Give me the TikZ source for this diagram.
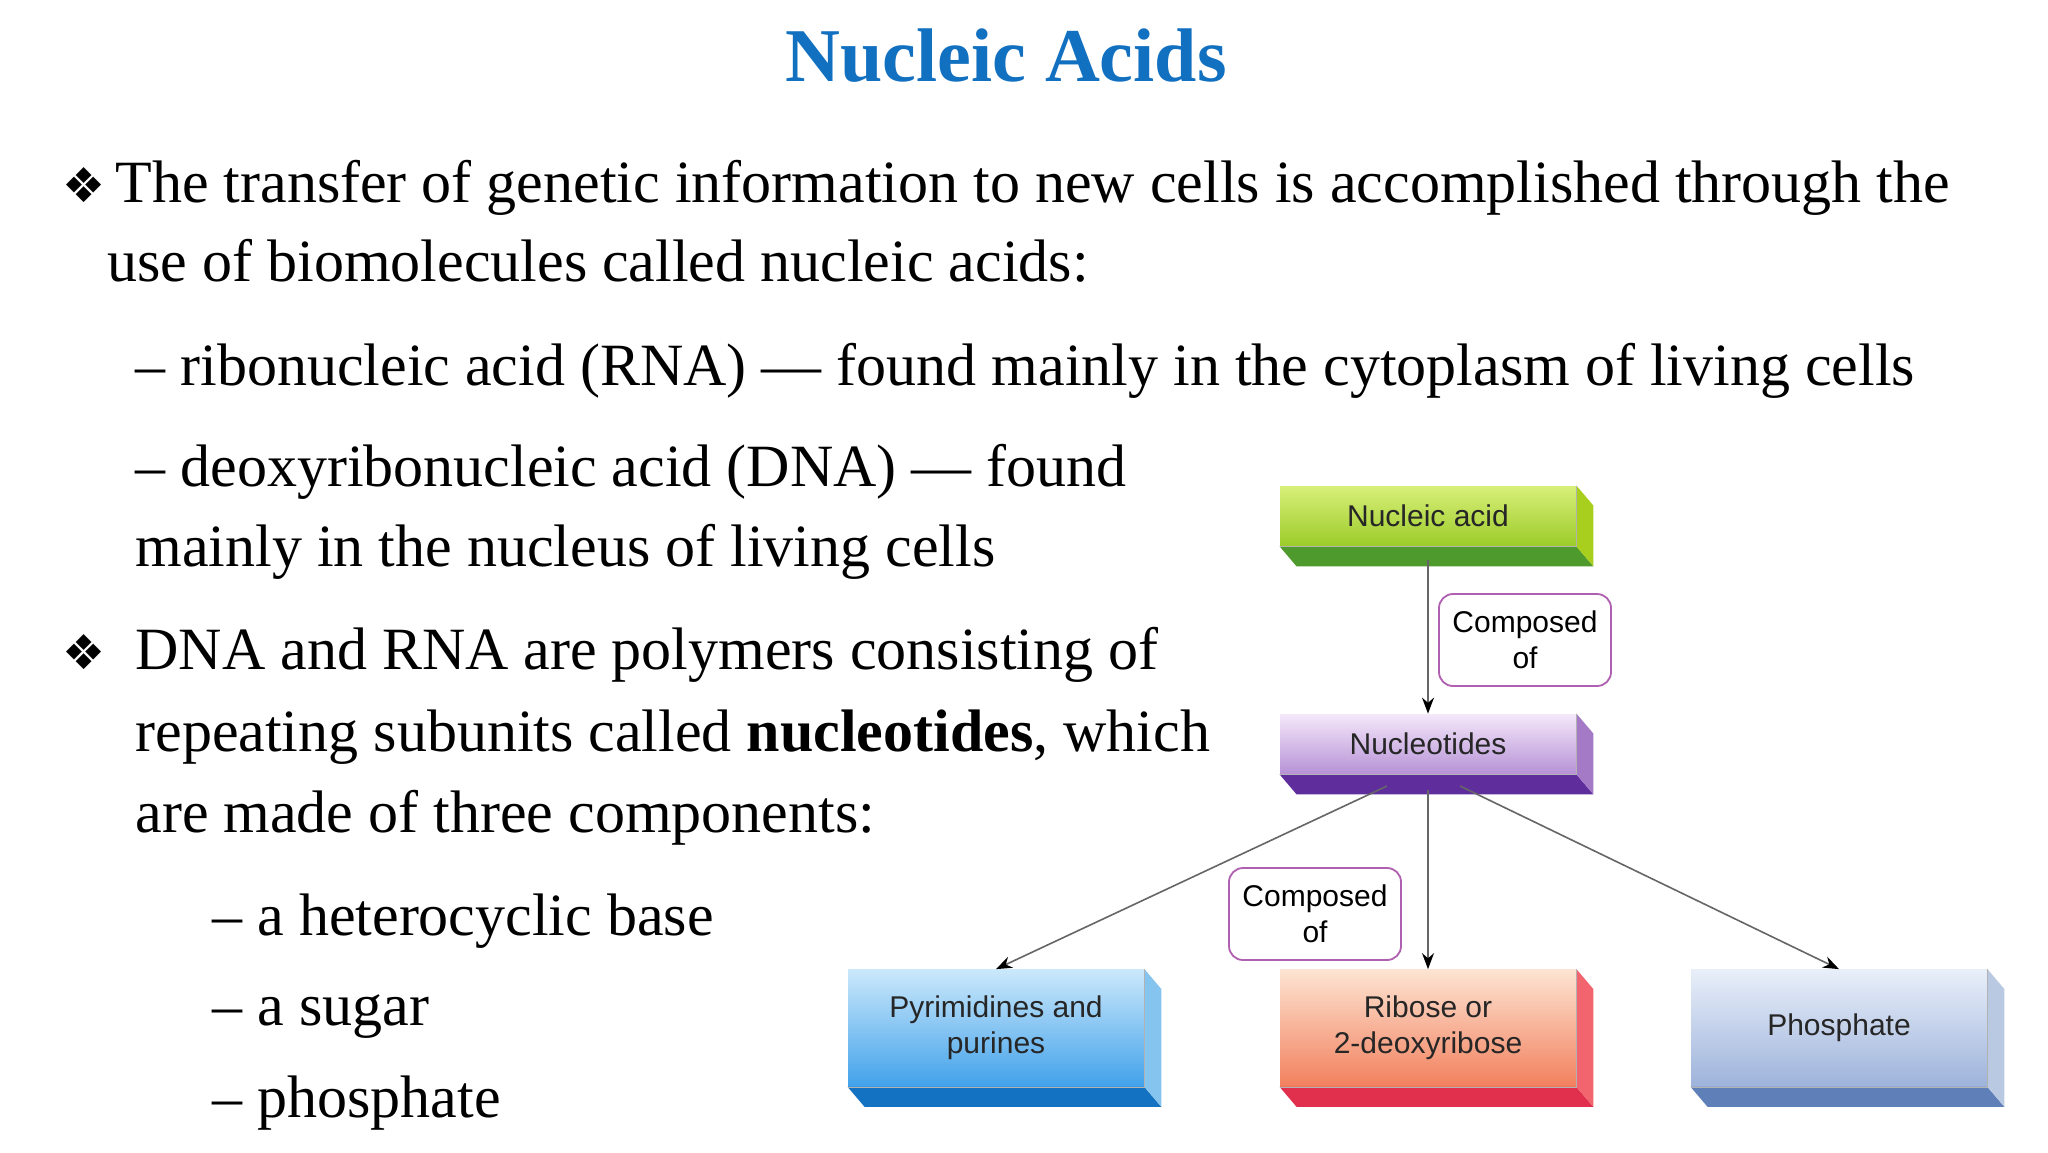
\documentclass[tikz,border=0pt]{standalone}
\usepackage{fontspec}
\setmainfont{Liberation Serif}
\newfontfamily\boxfont{Liberation Sans}
\newfontfamily\symfont{DejaVu Sans}
\usetikzlibrary{calc,arrows.meta}
\definecolor{titleblue}{HTML}{1270C0}
\definecolor{gA}{HTML}{D8EF78}\definecolor{gB}{HTML}{9CCB2A}\definecolor{gC}{HTML}{4E9A2C}\definecolor{gD}{HTML}{A9CF1E}
\definecolor{pA}{HTML}{F4E8FA}\definecolor{pB}{HTML}{B792D6}\definecolor{pC}{HTML}{5F2E9C}\definecolor{pD}{HTML}{A47AC6}
\definecolor{bA}{HTML}{CBE8FB}\definecolor{bB}{HTML}{42A2EA}\definecolor{bC}{HTML}{1472C2}\definecolor{bD}{HTML}{86C4F0}
\definecolor{rA}{HTML}{FDE4D2}\definecolor{rB}{HTML}{F2805E}\definecolor{rC}{HTML}{E0304E}\definecolor{rD}{HTML}{F2646E}
\definecolor{sA}{HTML}{E8EFF9}\definecolor{sB}{HTML}{9EB3DB}\definecolor{sC}{HTML}{5E7FB7}\definecolor{sD}{HTML}{B9C9E2}
\definecolor{lblc}{HTML}{B060B0}
\begin{document}
\begin{tikzpicture}[x=0.5pt,y=-0.5pt,
  body/.style={anchor=base west,inner sep=0pt,font=\fontsize{30}{33}\selectfont},
  slabbox/.style={minimum width=148pt,inner sep=0pt,font=\boxfont\fontsize{15}{18}\selectfont,align=center,text=black!85},
  lbl/.style={draw=lblc,line width=0.9pt,rounded corners=7pt,fill=white,minimum width=86pt,minimum height=46pt,inner sep=0pt,align=center,font=\boxfont\fontsize{15}{18}\selectfont},
  conn/.style={draw=black!60,line width=0.8pt,-{Stealth[length=8pt,width=6pt,black]}}]
\useasboundingbox (0,0) rectangle (2048,1152);
\fill[white] (0,0) rectangle (2048,1152);
\node[inner sep=0pt,anchor=base,text=titleblue,font=\bfseries\fontsize{38}{40}\selectfont] (title) at (1006,81) {Nucleic Acids};
\node[body] (d1) at (62,202) {\symfont\fontsize{24}{26}\selectfont ❖};
\node[body] (l1) at (115,202) {The transfer of genetic information to new cells is accomplished through the};
\node[body] (l2) at (107,281) {use of biomolecules called nucleic acids:};
\node[body] (l3) at (135,385) {– ribonucleic acid (RNA) — found mainly in the cytoplasm of living cells};
\node[body] (l4) at (135,486) {– deoxyribonucleic acid (DNA) — found};
\node[body] (l5) at (135,566) {mainly in the nucleus of living cells};
\node[body] (d2) at (62,669) {\symfont\fontsize{24}{26}\selectfont ❖};
\node[body] (l6) at (135,669) {DNA and RNA are polymers consisting of};
\node[body] (l7) at (135,751) {repeating subunits called \textbf{nucleotides}, which};
\node[body] (l8) at (135,832) {are made of three components:};
\node[body] (l9) at (212,935) {– a heterocyclic base};
\node[body] (l10) at (212,1025) {– a sugar};
\node[body] (l11) at (212,1117) {– phosphate};
\newcommand{\slab}[8]{%
  \node[slabbox,minimum height=#3,top color=#4,bottom color=#5] (#1) at #2 {#8};
  \fill[#6] (#1.south west) -- ($(#1.south west)+(17,20)$) -- ($(#1.south east)+(17,20)$) -- (#1.south east) -- cycle;
  \fill[#7] (#1.north east) -- ($(#1.north east)+(17,20)$) -- ($(#1.south east)+(17,20)$) -- (#1.south east) -- cycle;
  \draw[black!30,line width=0.4pt] (#1.south west) -- (#1.south east) -- (#1.north east);
}
\slab{na}{(1428,516)}{30pt}{gA}{gB}{gC}{gD}{Nucleic acid}
\slab{nt}{(1428,744)}{30pt}{pA}{pB}{pC}{pD}{Nucleotides}
\slab{py}{(996,1028)}{58.5pt}{bA}{bB}{bC}{bD}{Pyrimidines and\\purines}
\slab{rb}{(1428,1028)}{58.5pt}{rA}{rB}{rC}{rD}{Ribose or\\2-deoxyribose}
\slab{ph}{(1839,1028)}{58.5pt}{sA}{sB}{sC}{sD}{Phosphate}
\node[lbl] (c1) at (1525,640) {Composed\\of};
\node[lbl] (c2) at (1315,914) {Composed\\of};
\coordinate (s1) at (1428,560);
\coordinate (s2) at (1387,786);
\coordinate (s3) at (1428,790);
\coordinate (s4) at (1460,786);
\draw[conn] (s1) -- (nt.north);
\draw[conn] (s2) -- (py.north);
\draw[conn] (s3) -- (rb.north);
\draw[conn] (s4) -- (ph.north);
\end{tikzpicture}
\end{document}
